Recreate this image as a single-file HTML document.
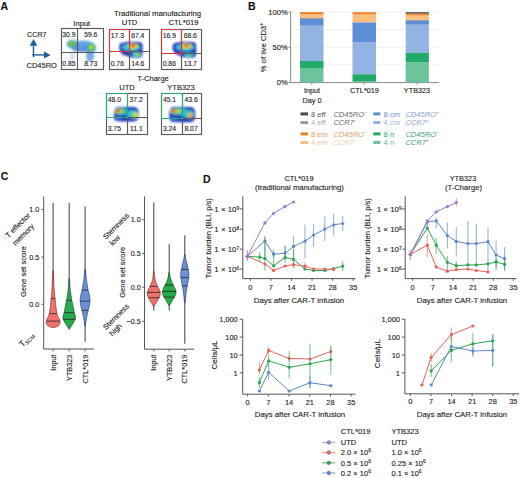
<!DOCTYPE html><html><head><meta charset="utf-8"><style>html,body{margin:0;padding:0;background:#fff;width:520px;height:478px;overflow:hidden}svg{display:block}text{font-family:"Liberation Sans",sans-serif}</style></head><body>
<svg width="520" height="478" viewBox="0 0 520 478">
<defs><filter id="bl" x="-50%" y="-50%" width="200%" height="200%"><feGaussianBlur stdDeviation="1.2"/></filter><filter id="bl2" x="-50%" y="-50%" width="200%" height="200%"><feGaussianBlur stdDeviation="0.8"/></filter></defs>
<rect width="520" height="478" fill="#fff"/>
<text x="0.50" y="9.60" font-size="10.5" text-anchor="start" fill="#111" font-weight="bold" font-style="normal"  stroke="#111" stroke-width="0.12">A</text>
<text x="27.00" y="36.50" font-size="7.2" text-anchor="start" fill="#222" font-weight="normal" font-style="normal"  stroke="#222" stroke-width="0.12">CCR7</text>
<text x="26.50" y="68.30" font-size="7.5" text-anchor="start" fill="#222" font-weight="normal" font-style="normal"  stroke="#222" stroke-width="0.12">CD45RO</text>
<line x1="33.50" y1="45.00" x2="33.50" y2="57.20" stroke="#1d5f9e" stroke-width="1.4" />
<polygon points="33.5,39 29.6,45.7 37.4,45.7" fill="#1d5f9e"/>
<line x1="32.20" y1="54.90" x2="44.50" y2="54.90" stroke="#1d5f9e" stroke-width="1.4" />
<polygon points="50.7,54.9 44,51.4 44,58.4" fill="#1d5f9e"/>
<g filter="url(#bl2)">
<ellipse cx="82.5" cy="46.5" rx="12.5" ry="5.5" fill="#4a8ad8" opacity="0.9"/>
<ellipse cx="72" cy="44" rx="5.5" ry="4.2" fill="#38b0c8" opacity="0.95"/>
<ellipse cx="90.5" cy="48" rx="5.5" ry="5.5" fill="#40a0d8" opacity="0.95"/>
<ellipse cx="90" cy="56" rx="4" ry="6" fill="#5a98e0" opacity="0.8"/>
<ellipse cx="72.5" cy="56" rx="3" ry="4" fill="#b8c8f0" opacity="0.55"/>
<ellipse cx="80" cy="44" rx="5" ry="3" fill="#5aa0e0" opacity="0.8"/>
<ellipse cx="84" cy="42.5" rx="8" ry="2.2" fill="#6aa8e4" opacity="0.6"/>
<ellipse cx="71.4" cy="43.6" rx="3.6" ry="2.9" fill="#58b040" opacity="1"/>
<ellipse cx="71.4" cy="43.5" rx="1.8" ry="1.5" fill="#c0d028" opacity="1"/>
<ellipse cx="71.4" cy="43.5" rx="0.7" ry="0.7" fill="#806010" opacity="1"/>
<ellipse cx="91.2" cy="47.5" rx="3.4" ry="4.0" fill="#50c050" opacity="1"/>
<ellipse cx="91.2" cy="47.3" rx="1.8" ry="2.3" fill="#b8e030" opacity="1"/>
</g>
<rect x="61.5" y="28.5" width="42.0" height="41.0" fill="none" stroke="#5a5a5a" stroke-width="1.15"/>
<line x1="77.50" y1="28.50" x2="77.50" y2="69.50" stroke="#5a5a5a" stroke-width="1.15" />
<line x1="61.50" y1="52.50" x2="103.50" y2="52.50" stroke="#5a5a5a" stroke-width="1.15" />
<text x="62.30" y="36.70" font-size="6.8" text-anchor="start" fill="#222" font-weight="normal" font-style="normal"  stroke="#222" stroke-width="0.12">30.9</text>
<text x="97.40" y="36.70" font-size="6.8" text-anchor="end" fill="#222" font-weight="normal" font-style="normal"  stroke="#222" stroke-width="0.12">59.6</text>
<text x="62.30" y="66.00" font-size="6.8" text-anchor="start" fill="#222" font-weight="normal" font-style="normal"  stroke="#222" stroke-width="0.12">0.85</text>
<text x="97.40" y="66.00" font-size="6.8" text-anchor="end" fill="#222" font-weight="normal" font-style="normal"  stroke="#222" stroke-width="0.12">8.73</text>
<text x="81.80" y="26.00" font-size="7.6" text-anchor="middle" fill="#222" font-weight="normal" font-style="normal"  stroke="#222" stroke-width="0.12">Input</text>
<text x="114.00" y="15.60" font-size="7.75" text-anchor="start" fill="#222" font-weight="normal" font-style="normal"  stroke="#222" stroke-width="0.12">Traditional manufacturing</text>
<text x="129.50" y="25.40" font-size="7.6" text-anchor="middle" fill="#222" font-weight="normal" font-style="normal"  stroke="#222" stroke-width="0.12">UTD</text>
<text x="183.50" y="25.20" font-size="7.6" text-anchor="middle" fill="#222" font-weight="normal" font-style="normal"  stroke="#222" stroke-width="0.12">CTL*019</text>
<g filter="url(#bl2)">
<path d="M121,43 Q130,41.2 140.5,42.2 Q143,43 142.6,48 L142.4,55.5 Q141.5,58 137,57.8 Q130,57.8 126,55.5 Q120.5,53 119.3,49 Q118.8,44 121,43 Z" fill="#2236b8"/>
<ellipse cx="131" cy="47.3" rx="9.5" ry="3.8" fill="#36bcd8" opacity="1"/>
<ellipse cx="136.5" cy="54.5" rx="5" ry="2.8" fill="#30a8d8" opacity="1"/>
<ellipse cx="125" cy="53.5" rx="4" ry="2" fill="#4a3aa8" opacity="0.6"/>
<ellipse cx="133" cy="46.2" rx="5.5" ry="3" fill="#a8d850" opacity="1"/>
<ellipse cx="133" cy="45.8" rx="3.8" ry="2.2" fill="#f0d030" opacity="1"/>
<ellipse cx="137" cy="54.6" rx="3.2" ry="1.9" fill="#90d048" opacity="1"/>
<ellipse cx="133" cy="45.4" rx="2.4" ry="1.3" fill="#e83a10" opacity="1"/>
</g>
<rect x="109.5" y="29.5" width="40.0" height="40.0" fill="none" stroke="#5a5a5a" stroke-width="1.15"/>
<line x1="129.50" y1="29.50" x2="129.50" y2="69.50" stroke="#5a5a5a" stroke-width="1.15" />
<line x1="109.50" y1="51.50" x2="149.50" y2="51.50" stroke="#5a5a5a" stroke-width="1.15" />
<path d="M109.5,51.5 V29.5 H129.5 V51.5 H109.5" fill="none" stroke="#d23a3a" stroke-width="1.1"/>
<text x="110.70" y="37.70" font-size="6.8" text-anchor="start" fill="#222" font-weight="normal" font-style="normal"  stroke="#222" stroke-width="0.12">17.3</text>
<text x="144.40" y="37.70" font-size="6.8" text-anchor="end" fill="#222" font-weight="normal" font-style="normal"  stroke="#222" stroke-width="0.12">67.4</text>
<text x="110.70" y="66.10" font-size="6.8" text-anchor="start" fill="#222" font-weight="normal" font-style="normal"  stroke="#222" stroke-width="0.12">0.76</text>
<text x="144.40" y="66.10" font-size="6.8" text-anchor="end" fill="#222" font-weight="normal" font-style="normal"  stroke="#222" stroke-width="0.12">14.6</text>
<g filter="url(#bl2)">
<path d="M175,43 Q184,41.2 194,42.2 Q196.5,43 196.2,48 L196,55.5 Q195,58 190.5,57.8 Q183,57.8 179,55.5 Q173.5,53 172.6,49 Q172,44 175,43 Z" fill="#2236b8"/>
<ellipse cx="185" cy="47.3" rx="9.5" ry="3.8" fill="#36bcd8" opacity="1"/>
<ellipse cx="189" cy="54.8" rx="5" ry="2.6" fill="#30a8d8" opacity="1"/>
<ellipse cx="179.5" cy="53.2" rx="4" ry="1.8" fill="#a0309a" opacity="0.55"/>
<ellipse cx="186.5" cy="46.2" rx="5.5" ry="3" fill="#a8d850" opacity="1"/>
<ellipse cx="186.5" cy="45.8" rx="3.8" ry="2.2" fill="#f0d030" opacity="1"/>
<ellipse cx="188" cy="55.3" rx="2.6" ry="1.5" fill="#78c868" opacity="0.9"/>
<ellipse cx="186.5" cy="45.5" rx="2.4" ry="1.3" fill="#e83a10" opacity="1"/>
</g>
<rect x="161.5" y="29.5" width="40.0" height="40.0" fill="none" stroke="#5a5a5a" stroke-width="1.15"/>
<line x1="181.50" y1="29.50" x2="181.50" y2="69.50" stroke="#5a5a5a" stroke-width="1.15" />
<line x1="161.50" y1="53.50" x2="201.50" y2="53.50" stroke="#5a5a5a" stroke-width="1.15" />
<path d="M161.5,53.5 V29.5 H181.5 V53.5 H161.5" fill="none" stroke="#d23a3a" stroke-width="1.1"/>
<text x="162.70" y="37.70" font-size="6.8" text-anchor="start" fill="#222" font-weight="normal" font-style="normal"  stroke="#222" stroke-width="0.12">16.9</text>
<text x="196.90" y="37.70" font-size="6.8" text-anchor="end" fill="#222" font-weight="normal" font-style="normal"  stroke="#222" stroke-width="0.12">68.6</text>
<text x="162.70" y="66.10" font-size="6.8" text-anchor="start" fill="#222" font-weight="normal" font-style="normal"  stroke="#222" stroke-width="0.12">0.86</text>
<text x="196.90" y="66.10" font-size="6.8" text-anchor="end" fill="#222" font-weight="normal" font-style="normal"  stroke="#222" stroke-width="0.12">13.7</text>
<text x="153.00" y="81.20" font-size="7.6" text-anchor="middle" fill="#222" font-weight="normal" font-style="normal"  stroke="#222" stroke-width="0.12">T-Charge</text>
<text x="127.00" y="90.40" font-size="7.6" text-anchor="middle" fill="#222" font-weight="normal" font-style="normal"  stroke="#222" stroke-width="0.12">UTD</text>
<text x="181.00" y="90.40" font-size="7.6" text-anchor="middle" fill="#222" font-weight="normal" font-style="normal"  stroke="#222" stroke-width="0.12">YTB323</text>
<g filter="url(#bl2)">
<rect x="114" y="107" width="24.6" height="14.5" rx="5" fill="#2440c0"/>
<ellipse cx="121" cy="111.5" rx="6.5" ry="3.4" fill="#38c0b8" opacity="1"/>
<ellipse cx="132" cy="114" rx="6" ry="4" fill="#38c0d0" opacity="1"/>
<ellipse cx="118" cy="118.5" rx="4" ry="2.6" fill="#3a60d0" opacity="1"/>
<ellipse cx="119" cy="111.2" rx="4.5" ry="2.3" fill="#90d040" opacity="1"/>
<ellipse cx="118.3" cy="111" rx="3" ry="1.6" fill="#f0a020" opacity="1"/>
<ellipse cx="118" cy="111" rx="1.6" ry="0.9" fill="#d02010" opacity="1"/>
<ellipse cx="135.2" cy="115.3" rx="2.6" ry="3.3" fill="#c8e030" opacity="1"/>
</g>
<rect x="106.5" y="93.5" width="41.0" height="41.0" fill="none" stroke="#5a5a5a" stroke-width="1.15"/>
<line x1="127.50" y1="93.50" x2="127.50" y2="134.50" stroke="#5a5a5a" stroke-width="1.15" />
<line x1="106.50" y1="117.50" x2="147.50" y2="117.50" stroke="#5a5a5a" stroke-width="1.15" />
<path d="M106.5,117.5 V93.5 H127.5 V117.5 H106.5" fill="none" stroke="#22b07a" stroke-width="1.1"/>
<text x="107.70" y="101.90" font-size="6.8" text-anchor="start" fill="#222" font-weight="normal" font-style="normal"  stroke="#222" stroke-width="0.12">48.0</text>
<text x="142.80" y="101.90" font-size="6.8" text-anchor="end" fill="#222" font-weight="normal" font-style="normal"  stroke="#222" stroke-width="0.12">37.2</text>
<text x="107.70" y="130.60" font-size="6.8" text-anchor="start" fill="#222" font-weight="normal" font-style="normal"  stroke="#222" stroke-width="0.12">3.75</text>
<text x="142.80" y="130.60" font-size="6.8" text-anchor="end" fill="#222" font-weight="normal" font-style="normal"  stroke="#222" stroke-width="0.12">11.1</text>
<g filter="url(#bl2)">
<rect x="169.3" y="107" width="25.9" height="15.2" rx="5" fill="#2440c0"/>
<ellipse cx="179" cy="111.5" rx="9" ry="3.6" fill="#38c0b8" opacity="1"/>
<ellipse cx="188" cy="114" rx="6" ry="4" fill="#38c0d0" opacity="1"/>
<ellipse cx="174" cy="119.5" rx="4" ry="2.6" fill="#3a60d0" opacity="1"/>
<ellipse cx="176" cy="111.2" rx="6" ry="2.2" fill="#a0d840" opacity="1"/>
<ellipse cx="174" cy="111" rx="3.2" ry="1.6" fill="#f0a020" opacity="1"/>
<ellipse cx="173.9" cy="111" rx="1.6" ry="0.9" fill="#d83010" opacity="1"/>
<ellipse cx="190.2" cy="115.6" rx="2.4" ry="3" fill="#e8c020" opacity="1"/>
<ellipse cx="190.2" cy="115.8" rx="1.2" ry="1.4" fill="#e88010" opacity="1"/>
</g>
<rect x="161.5" y="93.5" width="40.0" height="41.0" fill="none" stroke="#5a5a5a" stroke-width="1.15"/>
<line x1="182.50" y1="93.50" x2="182.50" y2="134.50" stroke="#5a5a5a" stroke-width="1.15" />
<line x1="161.50" y1="118.50" x2="201.50" y2="118.50" stroke="#5a5a5a" stroke-width="1.15" />
<path d="M161.5,118.5 V93.5 H182.5 V118.5 H161.5" fill="none" stroke="#22b07a" stroke-width="1.1"/>
<text x="162.90" y="101.90" font-size="6.8" text-anchor="start" fill="#222" font-weight="normal" font-style="normal"  stroke="#222" stroke-width="0.12">45.1</text>
<text x="197.70" y="101.90" font-size="6.8" text-anchor="end" fill="#222" font-weight="normal" font-style="normal"  stroke="#222" stroke-width="0.12">43.6</text>
<text x="162.90" y="130.60" font-size="6.8" text-anchor="start" fill="#222" font-weight="normal" font-style="normal"  stroke="#222" stroke-width="0.12">3.24</text>
<text x="197.70" y="130.60" font-size="6.8" text-anchor="end" fill="#222" font-weight="normal" font-style="normal"  stroke="#222" stroke-width="0.12">8.07</text>
<text x="248.00" y="9.80" font-size="10.5" text-anchor="start" fill="#111" font-weight="bold" font-style="normal"  stroke="#111" stroke-width="0.12">B</text>
<line x1="291.00" y1="64.85" x2="439.00" y2="64.85" stroke="#ececec" stroke-width="0.8" />
<line x1="291.00" y1="47.30" x2="439.00" y2="47.30" stroke="#ececec" stroke-width="0.8" />
<line x1="291.00" y1="29.75" x2="439.00" y2="29.75" stroke="#ececec" stroke-width="0.8" />
<line x1="291.00" y1="12.20" x2="439.00" y2="12.20" stroke="#ececec" stroke-width="0.8" />
<line x1="290.60" y1="11.50" x2="290.60" y2="82.60" stroke="#888" stroke-width="1" />
<line x1="290.60" y1="82.60" x2="439.00" y2="82.60" stroke="#888" stroke-width="1" />
<line x1="288.50" y1="82.40" x2="290.60" y2="82.40" stroke="#888" stroke-width="1" />
<text x="287.80" y="85.00" font-size="7.6" text-anchor="end" fill="#222" font-weight="normal" font-style="normal"  stroke="#222" stroke-width="0.12">0%</text>
<line x1="288.50" y1="47.30" x2="290.60" y2="47.30" stroke="#888" stroke-width="1" />
<text x="287.80" y="49.90" font-size="7.6" text-anchor="end" fill="#222" font-weight="normal" font-style="normal"  stroke="#222" stroke-width="0.12">50%</text>
<line x1="288.50" y1="12.20" x2="290.60" y2="12.20" stroke="#888" stroke-width="1" />
<text x="287.80" y="14.80" font-size="7.6" text-anchor="end" fill="#222" font-weight="normal" font-style="normal"  stroke="#222" stroke-width="0.12">100%</text>
<text transform="translate(265.6,47.6) rotate(-90)" font-size="7.7" text-anchor="middle" fill="#222" stroke="#222" stroke-width="0.12">% of live CD3<tspan dy="-2.8" font-size="5">+</tspan></text>
<rect x="300.00" y="68.50" width="23.50" height="13.90" fill="#6cc49c" />
<rect x="300.00" y="61.00" width="23.50" height="7.50" fill="#22ab68" />
<rect x="300.00" y="25.70" width="23.50" height="35.30" fill="#93b4e3" />
<rect x="300.00" y="19.00" width="23.50" height="6.70" fill="#5d8fd6" />
<rect x="300.00" y="17.80" width="23.50" height="1.20" fill="#9a9a9a" />
<rect x="300.00" y="14.00" width="23.50" height="3.80" fill="#f9bf7c" />
<rect x="300.00" y="12.20" width="23.50" height="1.80" fill="#ea8126" />
<rect x="352.50" y="81.00" width="23.50" height="1.40" fill="#6cc49c" />
<rect x="352.50" y="74.20" width="23.50" height="6.80" fill="#22ab68" />
<rect x="352.50" y="42.20" width="23.50" height="32.00" fill="#93b4e3" />
<rect x="352.50" y="22.30" width="23.50" height="19.90" fill="#5d8fd6" />
<rect x="352.50" y="14.40" width="23.50" height="7.90" fill="#f9bf7c" />
<rect x="352.50" y="12.20" width="23.50" height="2.20" fill="#ea8126" />
<rect x="405.70" y="62.30" width="23.20" height="20.10" fill="#6cc49c" />
<rect x="405.70" y="53.00" width="23.20" height="9.30" fill="#22ab68" />
<rect x="405.70" y="24.70" width="23.20" height="28.30" fill="#93b4e3" />
<rect x="405.70" y="21.00" width="23.20" height="3.70" fill="#5d8fd6" />
<rect x="405.70" y="19.70" width="23.20" height="1.30" fill="#9a9a9a" />
<rect x="405.70" y="15.30" width="23.20" height="4.40" fill="#f9bf7c" />
<rect x="405.70" y="13.50" width="23.20" height="1.80" fill="#ea8126" />
<rect x="405.70" y="12.20" width="23.20" height="1.30" fill="#484848" />
<line x1="311.80" y1="82.60" x2="311.80" y2="84.60" stroke="#888" stroke-width="1" />
<line x1="364.30" y1="82.60" x2="364.30" y2="84.60" stroke="#888" stroke-width="1" />
<line x1="417.30" y1="82.60" x2="417.30" y2="84.60" stroke="#888" stroke-width="1" />
<text x="312.00" y="93.30" font-size="7.3" text-anchor="middle" fill="#222" font-weight="normal" font-style="normal"  stroke="#222" stroke-width="0.12">Input</text>
<text x="312.00" y="102.60" font-size="7.3" text-anchor="middle" fill="#222" font-weight="normal" font-style="normal"  stroke="#222" stroke-width="0.12">Day 0</text>
<text x="364.50" y="93.00" font-size="7.3" text-anchor="middle" fill="#222" font-weight="normal" font-style="normal"  stroke="#222" stroke-width="0.12">CTL*019</text>
<text x="417.00" y="93.00" font-size="7.3" text-anchor="middle" fill="#222" font-weight="normal" font-style="normal"  stroke="#222" stroke-width="0.12">YTB323</text>
<rect x="300.50" y="112.40" width="7.50" height="3.00" fill="#484848" />
<text x="311" y="116.6" font-size="7.6" fill="#5a5a5a" stroke="none">8 eff</text>
<text x="333.4" y="116.6" font-size="7.6" font-style="italic" fill="#6a6a6a" stroke="none">CD45RO<tspan dy="-2.8" font-size="4.5">−</tspan></text>
<rect x="373.30" y="112.40" width="7.10" height="3.00" fill="#5d8fd6" />
<text x="383.6" y="116.6" font-size="7.6" fill="#6690cc" stroke="none">8 cm</text>
<text x="405.4" y="116.6" font-size="7.6" font-style="italic" fill="#8a9dc8" stroke="none">CD45RO<tspan dy="-2.8" font-size="4.5">+</tspan></text>
<rect x="300.50" y="121.10" width="7.50" height="3.00" fill="#9a9a9a" />
<text x="311" y="125.3" font-size="7.6" fill="#a8a8a8" stroke="none">4 eff</text>
<text x="333.4" y="125.3" font-size="7.6" font-style="italic" fill="#6a6a6a" stroke="none">CCR7<tspan dy="-2.8" font-size="4.5">−</tspan></text>
<rect x="373.30" y="121.10" width="7.10" height="3.00" fill="#93b4e3" />
<text x="383.6" y="125.3" font-size="7.6" fill="#a2b6da" stroke="none">4 cm</text>
<text x="405.4" y="125.3" font-size="7.6" font-style="italic" fill="#8a9dc8" stroke="none">CCR7<tspan dy="-2.8" font-size="4.5">+</tspan></text>
<rect x="300.50" y="132.40" width="7.50" height="3.00" fill="#ea8126" />
<text x="311" y="136.6" font-size="7.6" fill="#e89a5a" stroke="none">8 em</text>
<text x="333.4" y="136.6" font-size="7.6" font-style="italic" fill="#e6a068" stroke="none">CD45RO<tspan dy="-2.8" font-size="4.5">−</tspan></text>
<rect x="373.30" y="132.40" width="7.10" height="3.00" fill="#22ab68" />
<text x="383.6" y="136.6" font-size="7.6" fill="#34a46c" stroke="none">8 n</text>
<text x="405.4" y="136.6" font-size="7.6" font-style="italic" fill="#44a474" stroke="none">CD45RO<tspan dy="-2.8" font-size="4.5">−</tspan></text>
<rect x="300.50" y="141.00" width="7.50" height="3.00" fill="#f9bf7c" />
<text x="311" y="145.2" font-size="7.6" fill="#f3cba0" stroke="none">4 em</text>
<text x="333.4" y="145.2" font-size="7.6" font-style="italic" fill="#f0d2b4" stroke="none">CCR7<tspan dy="-2.8" font-size="4.5">−</tspan></text>
<rect x="373.30" y="141.00" width="7.10" height="3.00" fill="#6cc49c" />
<text x="383.6" y="145.2" font-size="7.6" fill="#74b494" stroke="none">4 n</text>
<text x="405.4" y="145.2" font-size="7.6" font-style="italic" fill="#44a474" stroke="none">CCR7<tspan dy="-2.8" font-size="4.5">+</tspan></text>
<text x="0.80" y="180.40" font-size="10.5" text-anchor="start" fill="#111" font-weight="bold" font-style="normal"  stroke="#111" stroke-width="0.12">C</text>
<line x1="43.70" y1="196.40" x2="43.70" y2="349.00" stroke="#555" stroke-width="1" />
<line x1="43.70" y1="349.00" x2="94.20" y2="349.00" stroke="#555" stroke-width="1" />
<line x1="41.50" y1="209.50" x2="43.70" y2="209.50" stroke="#555" stroke-width="1" />
<text x="39.30" y="212.10" font-size="7.2" text-anchor="end" fill="#222" font-weight="normal" font-style="normal"  stroke="#222" stroke-width="0.12">1.0</text>
<line x1="41.50" y1="257.10" x2="43.70" y2="257.10" stroke="#555" stroke-width="1" />
<text x="39.30" y="259.70" font-size="7.2" text-anchor="end" fill="#222" font-weight="normal" font-style="normal"  stroke="#222" stroke-width="0.12">0.5</text>
<line x1="41.50" y1="304.30" x2="43.70" y2="304.30" stroke="#555" stroke-width="1" />
<text x="39.30" y="306.90" font-size="7.2" text-anchor="end" fill="#222" font-weight="normal" font-style="normal"  stroke="#222" stroke-width="0.12">0.0</text>
<line x1="53.10" y1="349.00" x2="53.10" y2="351.20" stroke="#555" stroke-width="1" />
<line x1="69.20" y1="349.00" x2="69.20" y2="351.20" stroke="#555" stroke-width="1" />
<line x1="85.10" y1="349.00" x2="85.10" y2="351.20" stroke="#555" stroke-width="1" />
<line x1="53.10" y1="203.00" x2="53.10" y2="327.00" stroke="#1a1a1a" stroke-width="0.85" />
<polygon points="52.80,271.00 52.30,285.00 51.80,292.00 51.10,298.60 50.40,306.00 49.40,313.60 48.10,317.00 46.50,320.00 46.10,323.00 47.50,325.60 50.60,327.20 53.10,327.60 53.10,327.60 55.60,327.20 58.70,325.60 60.10,323.00 59.70,320.00 58.10,317.00 56.80,313.60 55.80,306.00 55.10,298.60 54.40,292.00 53.90,285.00 53.40,271.00" fill="#f0736b" stroke="#7a2e2e" stroke-width="0.65" stroke-linejoin="round"/>
<line x1="51.10" y1="298.60" x2="55.10" y2="298.60" stroke="#2a2020" stroke-width="0.8" />
<line x1="49.40" y1="313.60" x2="56.80" y2="313.60" stroke="#2a2020" stroke-width="0.8" />
<line x1="46.35" y1="321.10" x2="59.85" y2="321.10" stroke="#2a2020" stroke-width="0.8" />
<line x1="69.20" y1="203.00" x2="69.20" y2="329.00" stroke="#1a1a1a" stroke-width="0.85" />
<polygon points="68.90,279.00 68.20,290.00 66.60,300.40 65.40,306.00 64.10,312.70 62.90,316.40 63.10,319.40 65.80,324.00 69.20,329.40 69.20,329.40 72.60,324.00 75.30,319.40 75.50,316.40 74.30,312.70 73.00,306.00 71.80,300.40 70.20,290.00 69.50,279.00" fill="#24ab4a" stroke="#1f4a2a" stroke-width="0.65" stroke-linejoin="round"/>
<line x1="66.60" y1="300.40" x2="71.80" y2="300.40" stroke="#2a2020" stroke-width="0.8" />
<line x1="64.10" y1="312.70" x2="74.30" y2="312.70" stroke="#2a2020" stroke-width="0.8" />
<line x1="63.10" y1="319.40" x2="75.30" y2="319.40" stroke="#2a2020" stroke-width="0.8" />
<line x1="85.10" y1="206.40" x2="85.10" y2="341.80" stroke="#1a1a1a" stroke-width="0.85" />
<polygon points="84.80,269.40 83.80,280.00 82.10,290.10 80.60,296.00 80.10,300.40 80.60,305.00 81.80,309.80 83.30,316.00 84.30,322.00 84.80,326.00 85.40,326.00 85.90,322.00 86.90,316.00 88.40,309.80 89.60,305.00 90.10,300.40 89.60,296.00 88.10,290.10 86.40,280.00 85.40,269.40" fill="#6b90d8" stroke="#2a3a6a" stroke-width="0.65" stroke-linejoin="round"/>
<line x1="82.10" y1="290.10" x2="88.10" y2="290.10" stroke="#2a2020" stroke-width="0.8" />
<line x1="80.19" y1="301.20" x2="90.01" y2="301.20" stroke="#2a2020" stroke-width="0.8" />
<line x1="81.92" y1="310.30" x2="88.28" y2="310.30" stroke="#2a2020" stroke-width="0.8" />
<text transform="translate(25.8,271.6) rotate(-90)" font-size="7.5" text-anchor="middle" fill="#222" stroke="#222" stroke-width="0.12">Gene set score</text>
<text transform="translate(8.5,238.2) rotate(-45)" font-size="7.5" fill="#222" stroke="#222" stroke-width="0.12">T effector</text>
<text transform="translate(15.4,246) rotate(-45)" font-size="7.5" fill="#222" stroke="#222" stroke-width="0.12">memory</text>
<text transform="translate(22.6,347.6) rotate(-45)" font-size="8.6" fill="#222" stroke="#222" stroke-width="0.12">T<tspan font-size="5.2" dy="1.5">SCM</tspan></text>
<text transform="translate(55.70,354.6) rotate(-90)" font-size="7.3" text-anchor="end" fill="#222" stroke="#222" stroke-width="0.12">Input</text>
<text transform="translate(71.80,354.6) rotate(-90)" font-size="7.3" text-anchor="end" fill="#222" stroke="#222" stroke-width="0.12">YTB323</text>
<text transform="translate(87.70,354.6) rotate(-90)" font-size="7.3" text-anchor="end" fill="#222" stroke="#222" stroke-width="0.12">CTL*019</text>
<line x1="144.50" y1="196.40" x2="144.50" y2="349.20" stroke="#555" stroke-width="1" />
<line x1="144.50" y1="349.20" x2="194.20" y2="349.20" stroke="#555" stroke-width="1" />
<line x1="142.30" y1="219.80" x2="144.50" y2="219.80" stroke="#555" stroke-width="1" />
<text x="140.80" y="222.40" font-size="7.2" text-anchor="end" fill="#222" font-weight="normal" font-style="normal"  stroke="#222" stroke-width="0.12">1.0</text>
<line x1="142.30" y1="253.70" x2="144.50" y2="253.70" stroke="#555" stroke-width="1" />
<text x="140.80" y="256.30" font-size="7.2" text-anchor="end" fill="#222" font-weight="normal" font-style="normal"  stroke="#222" stroke-width="0.12">0.5</text>
<line x1="142.30" y1="287.20" x2="144.50" y2="287.20" stroke="#555" stroke-width="1" />
<text x="140.80" y="289.80" font-size="7.2" text-anchor="end" fill="#222" font-weight="normal" font-style="normal"  stroke="#222" stroke-width="0.12">0.0</text>
<line x1="142.30" y1="321.30" x2="144.50" y2="321.30" stroke="#555" stroke-width="1" />
<text x="140.80" y="323.90" font-size="7.2" text-anchor="end" fill="#222" font-weight="normal" font-style="normal"  stroke="#222" stroke-width="0.12">−0.5</text>
<line x1="153.80" y1="349.20" x2="153.80" y2="351.40" stroke="#555" stroke-width="1" />
<line x1="169.20" y1="349.20" x2="169.20" y2="351.40" stroke="#555" stroke-width="1" />
<line x1="184.80" y1="349.20" x2="184.80" y2="351.40" stroke="#555" stroke-width="1" />
<line x1="153.80" y1="202.30" x2="153.80" y2="310.40" stroke="#1a1a1a" stroke-width="0.85" />
<polygon points="153.50,271.30 152.90,278.00 151.60,283.00 150.00,286.40 148.50,289.00 147.30,292.50 147.50,295.00 148.40,297.70 150.30,301.00 152.20,304.00 153.50,306.50 154.10,306.50 155.40,304.00 157.30,301.00 159.20,297.70 160.10,295.00 160.30,292.50 159.10,289.00 157.60,286.40 156.00,283.00 154.70,278.00 154.10,271.30" fill="#f0736b" stroke="#7a2e2e" stroke-width="0.65" stroke-linejoin="round"/>
<line x1="150.00" y1="286.40" x2="157.60" y2="286.40" stroke="#2a2020" stroke-width="0.8" />
<line x1="147.33" y1="292.40" x2="160.27" y2="292.40" stroke="#2a2020" stroke-width="0.8" />
<line x1="148.40" y1="297.70" x2="159.20" y2="297.70" stroke="#2a2020" stroke-width="0.8" />
<line x1="169.20" y1="244.20" x2="169.20" y2="310.40" stroke="#1a1a1a" stroke-width="0.85" />
<polygon points="168.90,272.60 168.00,278.00 166.60,282.00 165.00,285.20 163.60,288.00 162.30,291.40 162.60,294.00 163.90,297.10 166.00,300.50 167.70,303.50 168.90,305.50 169.50,305.50 170.70,303.50 172.40,300.50 174.50,297.10 175.80,294.00 176.10,291.40 174.80,288.00 173.40,285.20 171.80,282.00 170.40,278.00 169.50,272.60" fill="#24ab4a" stroke="#1f4a2a" stroke-width="0.65" stroke-linejoin="round"/>
<line x1="165.00" y1="285.20" x2="173.40" y2="285.20" stroke="#2a2020" stroke-width="0.8" />
<line x1="162.30" y1="291.40" x2="176.10" y2="291.40" stroke="#2a2020" stroke-width="0.8" />
<line x1="163.90" y1="297.10" x2="174.50" y2="297.10" stroke="#2a2020" stroke-width="0.8" />
<line x1="184.80" y1="235.40" x2="184.80" y2="343.70" stroke="#1a1a1a" stroke-width="0.85" />
<polygon points="184.50,254.50 183.90,259.00 182.80,263.00 181.30,269.40 180.70,273.80 180.80,277.40 181.40,281.00 182.30,285.80 183.30,291.00 184.00,297.00 184.50,302.70 185.10,302.70 185.60,297.00 186.30,291.00 187.30,285.80 188.20,281.00 188.80,277.40 188.90,273.80 188.30,269.40 186.80,263.00 185.70,259.00 185.10,254.50" fill="#6b90d8" stroke="#2a3a6a" stroke-width="0.65" stroke-linejoin="round"/>
<line x1="181.30" y1="269.40" x2="188.30" y2="269.40" stroke="#2a2020" stroke-width="0.8" />
<line x1="180.80" y1="277.40" x2="188.80" y2="277.40" stroke="#2a2020" stroke-width="0.8" />
<line x1="182.30" y1="285.80" x2="187.30" y2="285.80" stroke="#2a2020" stroke-width="0.8" />
<text transform="translate(125.3,272.3) rotate(-90)" font-size="7.5" text-anchor="middle" fill="#222" stroke="#222" stroke-width="0.12">Gene set score</text>
<text transform="translate(106,239.8) rotate(-45)" font-size="7.5" fill="#222" stroke="#222" stroke-width="0.12">Stemness</text>
<text transform="translate(112.5,246.1) rotate(-45)" font-size="7.5" fill="#222" stroke="#222" stroke-width="0.12">low</text>
<text transform="translate(106,330.3) rotate(-45)" font-size="7.5" fill="#222" stroke="#222" stroke-width="0.12">Stemness</text>
<text transform="translate(112.3,336.5) rotate(-45)" font-size="7.5" fill="#222" stroke="#222" stroke-width="0.12">high</text>
<text transform="translate(156.40,354.6) rotate(-90)" font-size="7.3" text-anchor="end" fill="#222" stroke="#222" stroke-width="0.12">Input</text>
<text transform="translate(171.80,354.6) rotate(-90)" font-size="7.3" text-anchor="end" fill="#222" stroke="#222" stroke-width="0.12">YTB323</text>
<text transform="translate(187.40,354.6) rotate(-90)" font-size="7.3" text-anchor="end" fill="#222" stroke="#222" stroke-width="0.12">CTL*019</text>
<text x="203.00" y="183.20" font-size="10.5" text-anchor="start" fill="#111" font-weight="bold" font-style="normal"  stroke="#111" stroke-width="0.12">D</text>
<line x1="242.80" y1="196.40" x2="242.80" y2="278.60" stroke="#555" stroke-width="1" />
<line x1="242.80" y1="278.60" x2="355.50" y2="278.60" stroke="#555" stroke-width="1" />
<line x1="239.80" y1="208.90" x2="242.80" y2="208.90" stroke="#555" stroke-width="1" />
<text x="239.20" y="211.70" font-size="7.9" text-anchor="end" fill="#222" stroke="#222" stroke-width="0.12">1 × 10<tspan dy="-2.2" font-size="4.8">9</tspan></text>
<line x1="239.80" y1="229.20" x2="242.80" y2="229.20" stroke="#555" stroke-width="1" />
<text x="239.20" y="232.00" font-size="7.9" text-anchor="end" fill="#222" stroke="#222" stroke-width="0.12">1 × 10<tspan dy="-2.2" font-size="4.8">8</tspan></text>
<line x1="239.80" y1="249.20" x2="242.80" y2="249.20" stroke="#555" stroke-width="1" />
<text x="239.20" y="252.00" font-size="7.9" text-anchor="end" fill="#222" stroke="#222" stroke-width="0.12">1 × 10<tspan dy="-2.2" font-size="4.8">7</tspan></text>
<line x1="239.80" y1="269.00" x2="242.80" y2="269.00" stroke="#555" stroke-width="1" />
<text x="239.20" y="271.80" font-size="7.9" text-anchor="end" fill="#222" stroke="#222" stroke-width="0.12">1 × 10<tspan dy="-2.2" font-size="4.8">6</tspan></text>
<line x1="250.30" y1="278.60" x2="250.30" y2="280.80" stroke="#555" stroke-width="1" />
<text x="250.30" y="290.00" font-size="7.4" text-anchor="middle" fill="#222" font-weight="normal" font-style="normal"  stroke="#222" stroke-width="0.12">0</text>
<line x1="270.88" y1="278.60" x2="270.88" y2="280.80" stroke="#555" stroke-width="1" />
<text x="270.88" y="290.00" font-size="7.4" text-anchor="middle" fill="#222" font-weight="normal" font-style="normal"  stroke="#222" stroke-width="0.12">7</text>
<line x1="291.46" y1="278.60" x2="291.46" y2="280.80" stroke="#555" stroke-width="1" />
<text x="291.46" y="290.00" font-size="7.4" text-anchor="middle" fill="#222" font-weight="normal" font-style="normal"  stroke="#222" stroke-width="0.12">14</text>
<line x1="312.04" y1="278.60" x2="312.04" y2="280.80" stroke="#555" stroke-width="1" />
<text x="312.04" y="290.00" font-size="7.4" text-anchor="middle" fill="#222" font-weight="normal" font-style="normal"  stroke="#222" stroke-width="0.12">21</text>
<line x1="332.62" y1="278.60" x2="332.62" y2="280.80" stroke="#555" stroke-width="1" />
<text x="332.62" y="290.00" font-size="7.4" text-anchor="middle" fill="#222" font-weight="normal" font-style="normal"  stroke="#222" stroke-width="0.12">28</text>
<line x1="353.20" y1="278.60" x2="353.20" y2="280.80" stroke="#555" stroke-width="1" />
<text x="353.20" y="290.00" font-size="7.4" text-anchor="middle" fill="#222" font-weight="normal" font-style="normal"  stroke="#222" stroke-width="0.12">35</text>
<text x="299.00" y="302.60" font-size="7.8" text-anchor="middle" fill="#222" font-weight="normal" font-style="normal"  stroke="#222" stroke-width="0.12">Days after CAR-T infusion</text>
<text transform="translate(211,238.3) rotate(-90)" font-size="7.6" text-anchor="middle" fill="#222" stroke="#222" stroke-width="0.12">Tumor burden (BLI, p/s)</text>
<text x="299.00" y="181.00" font-size="7.4" text-anchor="middle" fill="#222" font-weight="normal" font-style="normal"  stroke="#222" stroke-width="0.12">CTL*019</text>
<text x="299.50" y="190.20" font-size="7.65" text-anchor="middle" fill="#222" font-weight="normal" font-style="normal"  stroke="#222" stroke-width="0.12">(traditional manufacturing)</text>
<line x1="247.40" y1="250.20" x2="247.40" y2="261.10" stroke="#9b7ec6" stroke-width="1.1" opacity="0.8"/>
<line x1="264.90" y1="235.80" x2="264.90" y2="258.00" stroke="#5c87c9" stroke-width="1.1" opacity="0.62"/>
<line x1="273.60" y1="250.00" x2="273.60" y2="258.00" stroke="#5c87c9" stroke-width="1.1" opacity="0.62"/>
<line x1="285.10" y1="246.10" x2="285.10" y2="260.00" stroke="#5c87c9" stroke-width="1.1" opacity="0.62"/>
<line x1="293.50" y1="235.80" x2="293.50" y2="260.60" stroke="#5c87c9" stroke-width="1.1" opacity="0.62"/>
<line x1="305.00" y1="224.80" x2="305.00" y2="258.60" stroke="#5c87c9" stroke-width="1.1" opacity="0.62"/>
<line x1="313.50" y1="224.00" x2="313.50" y2="247.00" stroke="#5c87c9" stroke-width="1.1" opacity="0.62"/>
<line x1="324.80" y1="216.50" x2="324.80" y2="241.00" stroke="#5c87c9" stroke-width="1.1" opacity="0.62"/>
<line x1="333.60" y1="214.00" x2="333.60" y2="235.70" stroke="#5c87c9" stroke-width="1.1" opacity="0.62"/>
<line x1="342.70" y1="216.00" x2="342.70" y2="231.00" stroke="#5c87c9" stroke-width="1.1" opacity="0.62"/>
<polyline points="247.40,256.30 264.90,241.00 273.60,254.20 285.10,253.10 293.50,246.40 305.00,241.20 313.50,235.10 324.80,229.10 333.60,224.80 342.70,223.50" fill="none" stroke="#5c87c9" stroke-width="1"/>
<circle cx="247.40" cy="256.30" r="1.6" fill="#5c87c9"/>
<circle cx="264.90" cy="241.00" r="1.6" fill="#5c87c9"/>
<circle cx="273.60" cy="254.20" r="1.6" fill="#5c87c9"/>
<circle cx="285.10" cy="253.10" r="1.6" fill="#5c87c9"/>
<circle cx="293.50" cy="246.40" r="1.6" fill="#5c87c9"/>
<circle cx="305.00" cy="241.20" r="1.6" fill="#5c87c9"/>
<circle cx="313.50" cy="235.10" r="1.6" fill="#5c87c9"/>
<circle cx="324.80" cy="229.10" r="1.6" fill="#5c87c9"/>
<circle cx="333.60" cy="224.80" r="1.6" fill="#5c87c9"/>
<circle cx="342.70" cy="223.50" r="1.6" fill="#5c87c9"/>
<line x1="259.70" y1="251.90" x2="259.70" y2="261.70" stroke="#2ca44e" stroke-width="1.1" opacity="0.62"/>
<line x1="264.90" y1="236.90" x2="264.90" y2="270.40" stroke="#2ca44e" stroke-width="1.1" opacity="0.62"/>
<line x1="273.60" y1="254.00" x2="273.60" y2="266.00" stroke="#2ca44e" stroke-width="1.1" opacity="0.62"/>
<line x1="285.10" y1="246.00" x2="285.10" y2="262.90" stroke="#2ca44e" stroke-width="1.1" opacity="0.62"/>
<line x1="293.50" y1="250.00" x2="293.50" y2="268.00" stroke="#2ca44e" stroke-width="1.1" opacity="0.62"/>
<line x1="342.70" y1="261.00" x2="342.70" y2="271.00" stroke="#2ca44e" stroke-width="1.1" opacity="0.62"/>
<polyline points="247.40,256.30 259.70,257.10 264.90,258.60 273.60,265.80 285.10,257.50 293.50,259.40 305.00,269.00 313.50,270.50 324.80,270.50 333.60,268.60 342.70,266.20" fill="none" stroke="#2ca44e" stroke-width="1"/>
<circle cx="247.40" cy="256.30" r="1.6" fill="#2ca44e"/>
<circle cx="259.70" cy="257.10" r="1.6" fill="#2ca44e"/>
<circle cx="264.90" cy="258.60" r="1.6" fill="#2ca44e"/>
<circle cx="273.60" cy="265.80" r="1.6" fill="#2ca44e"/>
<circle cx="285.10" cy="257.50" r="1.6" fill="#2ca44e"/>
<circle cx="293.50" cy="259.40" r="1.6" fill="#2ca44e"/>
<circle cx="305.00" cy="269.00" r="1.6" fill="#2ca44e"/>
<circle cx="313.50" cy="270.50" r="1.6" fill="#2ca44e"/>
<circle cx="324.80" cy="270.50" r="1.6" fill="#2ca44e"/>
<circle cx="333.60" cy="268.60" r="1.6" fill="#2ca44e"/>
<circle cx="342.70" cy="266.20" r="1.6" fill="#2ca44e"/>
<line x1="293.50" y1="262.30" x2="293.50" y2="268.00" stroke="#e8625a" stroke-width="1.1" opacity="0.62"/>
<line x1="305.00" y1="262.50" x2="305.00" y2="270.00" stroke="#e8625a" stroke-width="1.1" opacity="0.62"/>
<polyline points="247.40,256.30 264.90,264.00 273.60,270.40 285.10,266.00 293.50,264.60 305.00,266.20 313.50,269.00 324.80,269.00 333.60,269.40" fill="none" stroke="#e8625a" stroke-width="1"/>
<circle cx="247.40" cy="256.30" r="1.6" fill="#e8625a"/>
<circle cx="264.90" cy="264.00" r="1.6" fill="#e8625a"/>
<circle cx="273.60" cy="270.40" r="1.6" fill="#e8625a"/>
<circle cx="285.10" cy="266.00" r="1.6" fill="#e8625a"/>
<circle cx="293.50" cy="264.60" r="1.6" fill="#e8625a"/>
<circle cx="305.00" cy="266.20" r="1.6" fill="#e8625a"/>
<circle cx="313.50" cy="269.00" r="1.6" fill="#e8625a"/>
<circle cx="324.80" cy="269.00" r="1.6" fill="#e8625a"/>
<circle cx="333.60" cy="269.40" r="1.6" fill="#e8625a"/>
<polyline points="247.40,256.30 264.90,222.90 273.50,213.50 284.80,206.50 293.50,202.00" fill="none" stroke="#9b7ec6" stroke-width="1"/>
<circle cx="247.40" cy="256.30" r="1.6" fill="#9b7ec6"/>
<circle cx="264.90" cy="222.90" r="1.6" fill="#9b7ec6"/>
<circle cx="273.50" cy="213.50" r="1.6" fill="#9b7ec6"/>
<circle cx="284.80" cy="206.50" r="1.6" fill="#9b7ec6"/>
<circle cx="293.50" cy="202.00" r="1.6" fill="#9b7ec6"/>
<line x1="405.20" y1="196.40" x2="405.20" y2="278.60" stroke="#555" stroke-width="1" />
<line x1="405.20" y1="278.60" x2="516.60" y2="278.60" stroke="#555" stroke-width="1" />
<line x1="402.20" y1="208.90" x2="405.20" y2="208.90" stroke="#555" stroke-width="1" />
<text x="401.60" y="211.70" font-size="7.9" text-anchor="end" fill="#222" stroke="#222" stroke-width="0.12">1 × 10<tspan dy="-2.2" font-size="4.8">9</tspan></text>
<line x1="402.20" y1="229.20" x2="405.20" y2="229.20" stroke="#555" stroke-width="1" />
<text x="401.60" y="232.00" font-size="7.9" text-anchor="end" fill="#222" stroke="#222" stroke-width="0.12">1 × 10<tspan dy="-2.2" font-size="4.8">8</tspan></text>
<line x1="402.20" y1="249.20" x2="405.20" y2="249.20" stroke="#555" stroke-width="1" />
<text x="401.60" y="252.00" font-size="7.9" text-anchor="end" fill="#222" stroke="#222" stroke-width="0.12">1 × 10<tspan dy="-2.2" font-size="4.8">7</tspan></text>
<line x1="402.20" y1="269.00" x2="405.20" y2="269.00" stroke="#555" stroke-width="1" />
<text x="401.60" y="271.80" font-size="7.9" text-anchor="end" fill="#222" stroke="#222" stroke-width="0.12">1 × 10<tspan dy="-2.2" font-size="4.8">6</tspan></text>
<line x1="412.60" y1="278.60" x2="412.60" y2="280.80" stroke="#555" stroke-width="1" />
<text x="412.60" y="290.00" font-size="7.4" text-anchor="middle" fill="#222" font-weight="normal" font-style="normal"  stroke="#222" stroke-width="0.12">0</text>
<line x1="432.76" y1="278.60" x2="432.76" y2="280.80" stroke="#555" stroke-width="1" />
<text x="432.76" y="290.00" font-size="7.4" text-anchor="middle" fill="#222" font-weight="normal" font-style="normal"  stroke="#222" stroke-width="0.12">7</text>
<line x1="452.92" y1="278.60" x2="452.92" y2="280.80" stroke="#555" stroke-width="1" />
<text x="452.92" y="290.00" font-size="7.4" text-anchor="middle" fill="#222" font-weight="normal" font-style="normal"  stroke="#222" stroke-width="0.12">14</text>
<line x1="473.08" y1="278.60" x2="473.08" y2="280.80" stroke="#555" stroke-width="1" />
<text x="473.08" y="290.00" font-size="7.4" text-anchor="middle" fill="#222" font-weight="normal" font-style="normal"  stroke="#222" stroke-width="0.12">21</text>
<line x1="493.24" y1="278.60" x2="493.24" y2="280.80" stroke="#555" stroke-width="1" />
<text x="493.24" y="290.00" font-size="7.4" text-anchor="middle" fill="#222" font-weight="normal" font-style="normal"  stroke="#222" stroke-width="0.12">28</text>
<line x1="513.40" y1="278.60" x2="513.40" y2="280.80" stroke="#555" stroke-width="1" />
<text x="513.40" y="290.00" font-size="7.4" text-anchor="middle" fill="#222" font-weight="normal" font-style="normal"  stroke="#222" stroke-width="0.12">35</text>
<text x="462.00" y="302.60" font-size="7.8" text-anchor="middle" fill="#222" font-weight="normal" font-style="normal"  stroke="#222" stroke-width="0.12">Days after CAR-T infusion</text>
<text transform="translate(369.5,238.3) rotate(-90)" font-size="7.6" text-anchor="middle" fill="#222" stroke="#222" stroke-width="0.12">Tumor burden (BLI, p/s)</text>
<text x="463.00" y="181.20" font-size="7.4" text-anchor="middle" fill="#222" font-weight="normal" font-style="normal"  stroke="#222" stroke-width="0.12">YTB323</text>
<text x="463.50" y="190.40" font-size="7.65" text-anchor="middle" fill="#222" font-weight="normal" font-style="normal"  stroke="#222" stroke-width="0.12">(T-Charge)</text>
<line x1="410.30" y1="250.00" x2="410.30" y2="260.00" stroke="#9b7ec6" stroke-width="1.1" opacity="0.8"/>
<line x1="436.20" y1="217.30" x2="436.20" y2="228.00" stroke="#5c87c9" stroke-width="1.1" opacity="0.62"/>
<line x1="447.40" y1="222.60" x2="447.40" y2="248.40" stroke="#5c87c9" stroke-width="1.1" opacity="0.62"/>
<line x1="456.30" y1="227.00" x2="456.30" y2="256.40" stroke="#5c87c9" stroke-width="1.1" opacity="0.62"/>
<line x1="467.90" y1="221.00" x2="467.90" y2="264.30" stroke="#5c87c9" stroke-width="1.1" opacity="0.62"/>
<line x1="476.30" y1="223.50" x2="476.30" y2="263.40" stroke="#5c87c9" stroke-width="1.1" opacity="0.62"/>
<line x1="488.00" y1="227.60" x2="488.00" y2="272.80" stroke="#5c87c9" stroke-width="1.1" opacity="0.62"/>
<line x1="496.10" y1="240.80" x2="496.10" y2="270.50" stroke="#5c87c9" stroke-width="1.1" opacity="0.62"/>
<line x1="504.60" y1="247.00" x2="504.60" y2="271.00" stroke="#5c87c9" stroke-width="1.1" opacity="0.62"/>
<polyline points="410.30,254.50 427.30,222.10 436.20,220.80 447.40,235.60 456.30,241.40 467.90,243.60 476.30,243.60 488.00,241.70 496.10,255.00 504.60,258.70" fill="none" stroke="#5c87c9" stroke-width="1"/>
<circle cx="410.30" cy="254.50" r="1.6" fill="#5c87c9"/>
<circle cx="427.30" cy="222.10" r="1.6" fill="#5c87c9"/>
<circle cx="436.20" cy="220.80" r="1.6" fill="#5c87c9"/>
<circle cx="447.40" cy="235.60" r="1.6" fill="#5c87c9"/>
<circle cx="456.30" cy="241.40" r="1.6" fill="#5c87c9"/>
<circle cx="467.90" cy="243.60" r="1.6" fill="#5c87c9"/>
<circle cx="476.30" cy="243.60" r="1.6" fill="#5c87c9"/>
<circle cx="488.00" cy="241.70" r="1.6" fill="#5c87c9"/>
<circle cx="496.10" cy="255.00" r="1.6" fill="#5c87c9"/>
<circle cx="504.60" cy="258.70" r="1.6" fill="#5c87c9"/>
<line x1="427.30" y1="223.50" x2="427.30" y2="229.70" stroke="#2ca44e" stroke-width="1.1" opacity="0.62"/>
<line x1="436.20" y1="237.70" x2="436.20" y2="253.40" stroke="#2ca44e" stroke-width="1.1" opacity="0.62"/>
<line x1="447.40" y1="256.00" x2="447.40" y2="270.00" stroke="#2ca44e" stroke-width="1.1" opacity="0.62"/>
<line x1="456.30" y1="261.00" x2="456.30" y2="271.00" stroke="#2ca44e" stroke-width="1.1" opacity="0.62"/>
<line x1="496.10" y1="258.00" x2="496.10" y2="268.00" stroke="#2ca44e" stroke-width="1.1" opacity="0.62"/>
<line x1="504.60" y1="259.00" x2="504.60" y2="270.00" stroke="#2ca44e" stroke-width="1.1" opacity="0.62"/>
<polyline points="410.30,254.50 427.30,228.00 436.20,245.20 447.40,262.30 456.30,265.70 467.90,264.90 476.30,264.90 488.00,263.80 496.10,261.90 504.60,264.30" fill="none" stroke="#2ca44e" stroke-width="1"/>
<circle cx="410.30" cy="254.50" r="1.6" fill="#2ca44e"/>
<circle cx="427.30" cy="228.00" r="1.6" fill="#2ca44e"/>
<circle cx="436.20" cy="245.20" r="1.6" fill="#2ca44e"/>
<circle cx="447.40" cy="262.30" r="1.6" fill="#2ca44e"/>
<circle cx="456.30" cy="265.70" r="1.6" fill="#2ca44e"/>
<circle cx="467.90" cy="264.90" r="1.6" fill="#2ca44e"/>
<circle cx="476.30" cy="264.90" r="1.6" fill="#2ca44e"/>
<circle cx="488.00" cy="263.80" r="1.6" fill="#2ca44e"/>
<circle cx="496.10" cy="261.90" r="1.6" fill="#2ca44e"/>
<circle cx="504.60" cy="264.30" r="1.6" fill="#2ca44e"/>
<line x1="427.30" y1="234.20" x2="427.30" y2="257.30" stroke="#e8625a" stroke-width="1.1" opacity="0.62"/>
<polyline points="410.30,254.50 427.30,245.20 436.20,267.10 447.40,271.20 456.30,269.60 467.90,269.00 476.30,270.50 488.00,271.90" fill="none" stroke="#e8625a" stroke-width="1"/>
<circle cx="410.30" cy="254.50" r="1.6" fill="#e8625a"/>
<circle cx="427.30" cy="245.20" r="1.6" fill="#e8625a"/>
<circle cx="436.20" cy="267.10" r="1.6" fill="#e8625a"/>
<circle cx="447.40" cy="271.20" r="1.6" fill="#e8625a"/>
<circle cx="456.30" cy="269.60" r="1.6" fill="#e8625a"/>
<circle cx="467.90" cy="269.00" r="1.6" fill="#e8625a"/>
<circle cx="476.30" cy="270.50" r="1.6" fill="#e8625a"/>
<circle cx="488.00" cy="271.90" r="1.6" fill="#e8625a"/>
<line x1="456.30" y1="198.00" x2="456.30" y2="206.00" stroke="#9b7ec6" stroke-width="1.1" opacity="0.62"/>
<polyline points="410.30,254.50 427.30,220.80 436.20,211.90 447.40,206.60 456.30,202.50" fill="none" stroke="#9b7ec6" stroke-width="1"/>
<circle cx="410.30" cy="254.50" r="1.6" fill="#9b7ec6"/>
<circle cx="427.30" cy="220.80" r="1.6" fill="#9b7ec6"/>
<circle cx="436.20" cy="211.90" r="1.6" fill="#9b7ec6"/>
<circle cx="447.40" cy="206.60" r="1.6" fill="#9b7ec6"/>
<circle cx="456.30" cy="202.50" r="1.6" fill="#9b7ec6"/>
<line x1="242.70" y1="319.20" x2="242.70" y2="394.20" stroke="#555" stroke-width="1" />
<line x1="242.70" y1="394.20" x2="355.50" y2="394.20" stroke="#555" stroke-width="1" />
<line x1="239.70" y1="319.20" x2="242.70" y2="319.20" stroke="#555" stroke-width="1" />
<text x="237.70" y="322.00" font-size="7.4" text-anchor="end" fill="#222" stroke="#222" stroke-width="0.12">1,000</text>
<line x1="239.70" y1="337.10" x2="242.70" y2="337.10" stroke="#555" stroke-width="1" />
<text x="237.70" y="339.90" font-size="7.4" text-anchor="end" fill="#222" stroke="#222" stroke-width="0.12">100</text>
<line x1="239.70" y1="355.10" x2="242.70" y2="355.10" stroke="#555" stroke-width="1" />
<text x="237.70" y="357.90" font-size="7.4" text-anchor="end" fill="#222" stroke="#222" stroke-width="0.12">10</text>
<line x1="239.70" y1="372.80" x2="242.70" y2="372.80" stroke="#555" stroke-width="1" />
<text x="237.70" y="375.60" font-size="7.4" text-anchor="end" fill="#222" stroke="#222" stroke-width="0.12">1</text>
<line x1="247.60" y1="394.20" x2="247.60" y2="396.40" stroke="#555" stroke-width="1" />
<text x="247.60" y="404.80" font-size="7.4" text-anchor="middle" fill="#222" font-weight="normal" font-style="normal"  stroke="#222" stroke-width="0.12">0</text>
<line x1="268.32" y1="394.20" x2="268.32" y2="396.40" stroke="#555" stroke-width="1" />
<text x="268.32" y="404.80" font-size="7.4" text-anchor="middle" fill="#222" font-weight="normal" font-style="normal"  stroke="#222" stroke-width="0.12">7</text>
<line x1="289.04" y1="394.20" x2="289.04" y2="396.40" stroke="#555" stroke-width="1" />
<text x="289.04" y="404.80" font-size="7.4" text-anchor="middle" fill="#222" font-weight="normal" font-style="normal"  stroke="#222" stroke-width="0.12">14</text>
<line x1="309.76" y1="394.20" x2="309.76" y2="396.40" stroke="#555" stroke-width="1" />
<text x="309.76" y="404.80" font-size="7.4" text-anchor="middle" fill="#222" font-weight="normal" font-style="normal"  stroke="#222" stroke-width="0.12">21</text>
<line x1="330.48" y1="394.20" x2="330.48" y2="396.40" stroke="#555" stroke-width="1" />
<text x="330.48" y="404.80" font-size="7.4" text-anchor="middle" fill="#222" font-weight="normal" font-style="normal"  stroke="#222" stroke-width="0.12">28</text>
<line x1="351.20" y1="394.20" x2="351.20" y2="396.40" stroke="#555" stroke-width="1" />
<text x="351.20" y="404.80" font-size="7.4" text-anchor="middle" fill="#222" font-weight="normal" font-style="normal"  stroke="#222" stroke-width="0.12">35</text>
<text x="300.00" y="417.00" font-size="7.8" text-anchor="middle" fill="#222" font-weight="normal" font-style="normal"  stroke="#222" stroke-width="0.12">Days after CAR-T infusion</text>
<text transform="translate(217.2,355) rotate(-90)" font-size="8.0" text-anchor="middle" fill="#222" stroke="#222" stroke-width="0.12">Cells/μL</text>
<line x1="259.40" y1="362.00" x2="259.40" y2="374.00" stroke="#e8625a" stroke-width="1.1" opacity="0.62"/>
<line x1="268.60" y1="347.00" x2="268.60" y2="354.00" stroke="#e8625a" stroke-width="1.1" opacity="0.62"/>
<line x1="289.20" y1="356.00" x2="289.20" y2="361.00" stroke="#e8625a" stroke-width="1.1" opacity="0.62"/>
<line x1="330.80" y1="347.50" x2="330.80" y2="355.00" stroke="#e8625a" stroke-width="1.1" opacity="0.62"/>
<polyline points="259.40,370.00 268.60,350.40 289.20,358.50 310.00,359.00 330.80,351.50" fill="none" stroke="#e8625a" stroke-width="1"/>
<circle cx="259.40" cy="370.00" r="1.6" fill="#e8625a"/>
<circle cx="268.60" cy="350.40" r="1.6" fill="#e8625a"/>
<circle cx="289.20" cy="358.50" r="1.6" fill="#e8625a"/>
<circle cx="310.00" cy="359.00" r="1.6" fill="#e8625a"/>
<circle cx="330.80" cy="351.50" r="1.6" fill="#e8625a"/>
<line x1="259.40" y1="377.00" x2="259.40" y2="388.00" stroke="#2ca44e" stroke-width="1.1" opacity="0.62"/>
<line x1="268.60" y1="355.00" x2="268.60" y2="367.00" stroke="#2ca44e" stroke-width="1.1" opacity="0.62"/>
<line x1="289.20" y1="351.00" x2="289.20" y2="378.00" stroke="#2ca44e" stroke-width="1.1" opacity="0.62"/>
<line x1="310.00" y1="343.50" x2="310.00" y2="388.50" stroke="#2ca44e" stroke-width="1.1" opacity="0.62"/>
<line x1="330.80" y1="345.00" x2="330.80" y2="375.00" stroke="#2ca44e" stroke-width="1.1" opacity="0.62"/>
<polyline points="259.40,382.70 268.60,360.80 289.20,367.30 310.00,363.80 330.80,359.60" fill="none" stroke="#2ca44e" stroke-width="1"/>
<circle cx="259.40" cy="382.70" r="1.6" fill="#2ca44e"/>
<circle cx="268.60" cy="360.80" r="1.6" fill="#2ca44e"/>
<circle cx="289.20" cy="367.30" r="1.6" fill="#2ca44e"/>
<circle cx="310.00" cy="363.80" r="1.6" fill="#2ca44e"/>
<circle cx="330.80" cy="359.60" r="1.6" fill="#2ca44e"/>
<line x1="268.60" y1="365.00" x2="268.60" y2="380.00" stroke="#5c87c9" stroke-width="1.1" opacity="0.62"/>
<line x1="310.00" y1="376.00" x2="310.00" y2="388.00" stroke="#5c87c9" stroke-width="1.1" opacity="0.62"/>
<polyline points="259.40,391.00 268.60,372.30 289.20,391.00 310.00,382.70 330.80,385.70" fill="none" stroke="#5c87c9" stroke-width="1"/>
<circle cx="259.40" cy="391.00" r="1.6" fill="#5c87c9"/>
<circle cx="268.60" cy="372.30" r="1.6" fill="#5c87c9"/>
<circle cx="289.20" cy="391.00" r="1.6" fill="#5c87c9"/>
<circle cx="310.00" cy="382.70" r="1.6" fill="#5c87c9"/>
<circle cx="330.80" cy="385.70" r="1.6" fill="#5c87c9"/>
<line x1="404.90" y1="319.20" x2="404.90" y2="393.80" stroke="#555" stroke-width="1" />
<line x1="404.90" y1="393.80" x2="519.00" y2="393.80" stroke="#555" stroke-width="1" />
<line x1="401.90" y1="319.20" x2="404.90" y2="319.20" stroke="#555" stroke-width="1" />
<text x="399.90" y="322.00" font-size="7.4" text-anchor="end" fill="#222" stroke="#222" stroke-width="0.12">1,000</text>
<line x1="401.90" y1="337.10" x2="404.90" y2="337.10" stroke="#555" stroke-width="1" />
<text x="399.90" y="339.90" font-size="7.4" text-anchor="end" fill="#222" stroke="#222" stroke-width="0.12">100</text>
<line x1="401.90" y1="355.10" x2="404.90" y2="355.10" stroke="#555" stroke-width="1" />
<text x="399.90" y="357.90" font-size="7.4" text-anchor="end" fill="#222" stroke="#222" stroke-width="0.12">10</text>
<line x1="401.90" y1="372.80" x2="404.90" y2="372.80" stroke="#555" stroke-width="1" />
<text x="399.90" y="375.60" font-size="7.4" text-anchor="end" fill="#222" stroke="#222" stroke-width="0.12">1</text>
<line x1="410.40" y1="393.80" x2="410.40" y2="396.00" stroke="#555" stroke-width="1" />
<text x="410.40" y="404.40" font-size="7.4" text-anchor="middle" fill="#222" font-weight="normal" font-style="normal"  stroke="#222" stroke-width="0.12">0</text>
<line x1="430.98" y1="393.80" x2="430.98" y2="396.00" stroke="#555" stroke-width="1" />
<text x="430.98" y="404.40" font-size="7.4" text-anchor="middle" fill="#222" font-weight="normal" font-style="normal"  stroke="#222" stroke-width="0.12">7</text>
<line x1="451.56" y1="393.80" x2="451.56" y2="396.00" stroke="#555" stroke-width="1" />
<text x="451.56" y="404.40" font-size="7.4" text-anchor="middle" fill="#222" font-weight="normal" font-style="normal"  stroke="#222" stroke-width="0.12">14</text>
<line x1="472.14" y1="393.80" x2="472.14" y2="396.00" stroke="#555" stroke-width="1" />
<text x="472.14" y="404.40" font-size="7.4" text-anchor="middle" fill="#222" font-weight="normal" font-style="normal"  stroke="#222" stroke-width="0.12">21</text>
<line x1="492.72" y1="393.80" x2="492.72" y2="396.00" stroke="#555" stroke-width="1" />
<text x="492.72" y="404.40" font-size="7.4" text-anchor="middle" fill="#222" font-weight="normal" font-style="normal"  stroke="#222" stroke-width="0.12">28</text>
<line x1="513.30" y1="393.80" x2="513.30" y2="396.00" stroke="#555" stroke-width="1" />
<text x="513.30" y="404.40" font-size="7.4" text-anchor="middle" fill="#222" font-weight="normal" font-style="normal"  stroke="#222" stroke-width="0.12">35</text>
<text x="462.00" y="416.60" font-size="7.8" text-anchor="middle" fill="#222" font-weight="normal" font-style="normal"  stroke="#222" stroke-width="0.12">Days after CAR-T infusion</text>
<text transform="translate(379.6,353.6) rotate(-90)" font-size="8.0" text-anchor="middle" fill="#222" stroke="#222" stroke-width="0.12">Cells/μL</text>
<line x1="431.20" y1="353.00" x2="431.20" y2="362.00" stroke="#e8625a" stroke-width="1.1" opacity="0.62"/>
<line x1="451.30" y1="327.30" x2="451.30" y2="340.40" stroke="#e8625a" stroke-width="1.1" opacity="0.62"/>
<polyline points="421.90,385.00 431.20,357.40 451.30,334.60 472.90,326.00" fill="none" stroke="#e8625a" stroke-width="1"/>
<circle cx="421.90" cy="385.00" r="1.6" fill="#e8625a"/>
<circle cx="431.20" cy="357.40" r="1.6" fill="#e8625a"/>
<circle cx="451.30" cy="334.60" r="1.6" fill="#e8625a"/>
<circle cx="472.90" cy="326.00" r="1.6" fill="#e8625a"/>
<line x1="431.20" y1="364.00" x2="431.20" y2="377.00" stroke="#2ca44e" stroke-width="1.1" opacity="0.62"/>
<line x1="451.30" y1="335.60" x2="451.30" y2="362.50" stroke="#2ca44e" stroke-width="1.1" opacity="0.62"/>
<line x1="472.90" y1="332.70" x2="472.90" y2="355.80" stroke="#2ca44e" stroke-width="1.1" opacity="0.62"/>
<line x1="492.70" y1="334.60" x2="492.70" y2="366.30" stroke="#2ca44e" stroke-width="1.1" opacity="0.62"/>
<polyline points="431.20,370.80 451.30,350.40 472.90,343.80 492.70,340.80" fill="none" stroke="#2ca44e" stroke-width="1"/>
<circle cx="431.20" cy="370.80" r="1.6" fill="#2ca44e"/>
<circle cx="451.30" cy="350.40" r="1.6" fill="#2ca44e"/>
<circle cx="472.90" cy="343.80" r="1.6" fill="#2ca44e"/>
<circle cx="492.70" cy="340.80" r="1.6" fill="#2ca44e"/>
<line x1="472.90" y1="347.00" x2="472.90" y2="356.70" stroke="#5c87c9" stroke-width="1.1" opacity="0.62"/>
<line x1="492.70" y1="333.70" x2="492.70" y2="366.30" stroke="#5c87c9" stroke-width="1.1" opacity="0.62"/>
<polyline points="431.20,385.00 451.30,346.50 472.90,351.00 492.70,350.40" fill="none" stroke="#5c87c9" stroke-width="1"/>
<circle cx="431.20" cy="385.00" r="1.6" fill="#5c87c9"/>
<circle cx="451.30" cy="346.50" r="1.6" fill="#5c87c9"/>
<circle cx="472.90" cy="351.00" r="1.6" fill="#5c87c9"/>
<circle cx="492.70" cy="350.40" r="1.6" fill="#5c87c9"/>
<text x="340.80" y="433.60" font-size="7.5" text-anchor="start" fill="#222" font-weight="normal" font-style="normal"  stroke="#222" stroke-width="0.12">CTL*019</text>
<text x="391.50" y="433.60" font-size="7.5" text-anchor="start" fill="#222" font-weight="normal" font-style="normal"  stroke="#222" stroke-width="0.12">YTB323</text>
<line x1="322.30" y1="442.50" x2="335.40" y2="442.50" stroke="#9b7ec6" stroke-width="1.3" opacity="0.65"/>
<circle cx="328.8" cy="442.5" r="1.9" fill="#9b7ec6" stroke="#555" stroke-width="0.3"/>
<text x="340.8" y="445.4" font-size="7.5" fill="#222" stroke="#222" stroke-width="0.12">UTD</text>
<text x="391.5" y="445.4" font-size="7.5" fill="#222" stroke="#222" stroke-width="0.12">UTD</text>
<line x1="322.30" y1="452.50" x2="335.40" y2="452.50" stroke="#e8625a" stroke-width="1.3" opacity="0.65"/>
<circle cx="328.8" cy="452.5" r="1.9" fill="#e8625a" stroke="#555" stroke-width="0.3"/>
<text x="340.8" y="455.4" font-size="7.5" fill="#222" stroke="#222" stroke-width="0.12">2.0 × 10<tspan dy="-3" font-size="5">6</tspan></text>
<text x="391.5" y="455.4" font-size="7.5" fill="#222" stroke="#222" stroke-width="0.12">1.0 × 10<tspan dy="-3" font-size="5">6</tspan></text>
<line x1="322.30" y1="462.80" x2="335.40" y2="462.80" stroke="#2ca44e" stroke-width="1.3" opacity="0.65"/>
<circle cx="328.8" cy="462.8" r="1.9" fill="#2ca44e" stroke="#555" stroke-width="0.3"/>
<text x="340.8" y="465.7" font-size="7.5" fill="#222" stroke="#222" stroke-width="0.12">0.5 × 10<tspan dy="-3" font-size="5">6</tspan></text>
<text x="391.5" y="465.7" font-size="7.5" fill="#222" stroke="#222" stroke-width="0.12">0.25 × 10<tspan dy="-3" font-size="5">6</tspan></text>
<line x1="322.30" y1="473.00" x2="335.40" y2="473.00" stroke="#5c87c9" stroke-width="1.3" opacity="0.65"/>
<circle cx="328.8" cy="473" r="1.9" fill="#5c87c9" stroke="#555" stroke-width="0.3"/>
<text x="340.8" y="475.9" font-size="7.5" fill="#222" stroke="#222" stroke-width="0.12">0.2 × 10<tspan dy="-3" font-size="5">6</tspan></text>
<text x="391.5" y="475.9" font-size="7.5" fill="#222" stroke="#222" stroke-width="0.12">0.1 × 10<tspan dy="-3" font-size="5">6</tspan></text>
</svg></body></html>
